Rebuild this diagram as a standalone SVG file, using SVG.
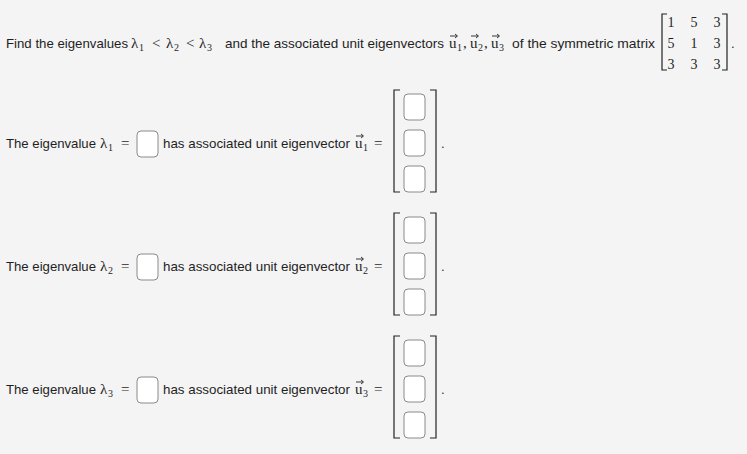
<svg xmlns="http://www.w3.org/2000/svg" width="747" height="454" viewBox="0 0 747 454">
<style>
.t{font-family:"Liberation Sans","Open Sans",sans-serif;font-size:13px;fill:#1f1f1f}
.m{font-family:"Liberation Serif","DejaVu Serif",serif;font-size:15px;fill:#1f1f1f}
.s{font-family:"Liberation Serif","DejaVu Serif",serif;font-size:10px;fill:#1f1f1f}
.mm{font-family:"Liberation Serif","DejaVu Serif",serif;font-size:14px;fill:#1f1f1f}
.br{fill:none;stroke:#222;stroke-width:1.2}
.bx{fill:#fff;stroke:#8a8a8a;stroke-width:1}
.ar{fill:none;stroke:#222;stroke-width:0.9}
</style>
<defs>
<g id="vec"><path class="ar" d="M1,-12 H8 M6,-14 L8.5,-12 L6,-10"/></g>
<g id="row">
<text class="t" x="6" y="0" textLength="90" lengthAdjust="spacingAndGlyphs">The eigenvalue</text>
<text class="m" x="100" y="0">λ</text>
<text class="m" x="121" y="0">=</text>
<rect class="bx" x="137" y="-17" width="21" height="26" rx="4"/>
<text class="t" x="163" y="0" textLength="187" lengthAdjust="spacingAndGlyphs">has associated unit eigenvector</text>
<text class="m" x="355" y="0">u</text><use href="#vec" x="355"/>
<text class="m" x="374" y="0">=</text>
<rect class="bx" x="404" y="-54" width="21" height="26" rx="4"/>
<rect class="bx" x="404" y="-18" width="21" height="26" rx="4"/>
<rect class="bx" x="404" y="18" width="21" height="26" rx="4"/>
<path class="br" d="M400,-58 H394 V44 H400 M430,-58 H436 V44 H430"/>
<text class="t" x="441" y="0">.</text>
</g>
</defs>
<rect width="747" height="454" fill="#f4f4f4"/>
<text class="t" x="6" y="48" textLength="122" lengthAdjust="spacingAndGlyphs">Find the eigenvalues</text>
<text class="m" x="131" y="48">λ</text><text class="s" x="139" y="51">1</text>
<text class="m" x="152" y="48">&lt;</text>
<text class="m" x="166" y="48">λ</text><text class="s" x="174" y="51">2</text>
<text class="m" x="186" y="48">&lt;</text>
<text class="m" x="199" y="48">λ</text><text class="s" x="207" y="51">3</text>
<text class="t" x="225" y="48" textLength="219" lengthAdjust="spacingAndGlyphs">and the associated unit eigenvectors</text>
<text class="m" x="449" y="48">u</text><use href="#vec" x="449" y="48"/><text class="s" x="457" y="51">1</text><text class="m" x="463" y="48">,</text>
<text class="m" x="470" y="48">u</text><use href="#vec" x="470" y="48"/><text class="s" x="478" y="51">2</text><text class="m" x="484" y="48">,</text>
<text class="m" x="491" y="48">u</text><use href="#vec" x="491" y="48"/><text class="s" x="499" y="51">3</text>
<text class="t" x="512" y="48" textLength="143" lengthAdjust="spacingAndGlyphs">of the symmetric matrix</text>
<path class="br" d="M667,14 H662 V70 H667 M722,14 H727 V70 H722"/>
<g class="mm" text-anchor="middle">
<text x="671" y="27">1</text><text x="694" y="27">5</text><text x="717" y="27">3</text>
<text x="671" y="48">5</text><text x="694" y="48">1</text><text x="717" y="48">3</text>
<text x="671" y="69">3</text><text x="694" y="69">3</text><text x="717" y="69">3</text>
</g>
<text class="t" x="731" y="48">.</text>
<g id="r1" transform="translate(0,148)"><use href="#row"/>
<text class="s" x="108" y="3">1</text><text class="s" x="363" y="3">1</text></g>
<g id="r2" transform="translate(0,271)"><use href="#row"/>
<text class="s" x="108" y="3">2</text><text class="s" x="363" y="3">2</text></g>
<g id="r3" transform="translate(0,394)"><use href="#row"/>
<text class="s" x="108" y="3">3</text><text class="s" x="363" y="3">3</text></g>
</svg>
